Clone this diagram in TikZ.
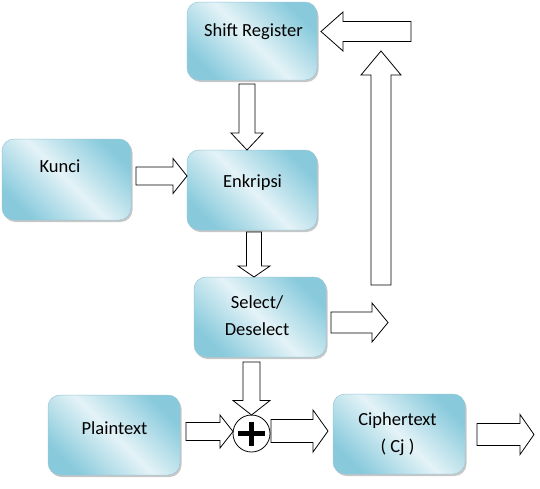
\documentclass[tikz,border=0pt]{standalone}
\usepackage{fontspec}
\setmainfont{Carlito}
\usetikzlibrary{calc,shadows}
\definecolor{bdark}{RGB}{136,202,220}
\definecolor{blight}{RGB}{228,243,247}
\definecolor{bedge}{RGB}{155,200,214}
\tikzset{
  box/.style={rectangle, rounded corners=12pt, minimum width=131pt, minimum height=80pt,
    inner sep=0pt, draw=bedge, line width=0.5pt,
    top color=bdark, bottom color=bdark, middle color=blight, shading angle=-45,
    drop shadow={shadow xshift=1.5pt, shadow yshift=-2pt, opacity=0.22, fill=black}},
  txt/.style={inner sep=0pt, font=\fontsize{18.5}{27}\selectfont, align=center},
  blockarrow/.style={draw=black, fill=white, line width=0.8pt, line join=miter},
}
\newcommand\blockarr[5]{%
  \draw[blockarrow]
    ($(#1)!#3!90:(#2)$) --
    ($($(#2)!#5!(#1)$)!#3!90:(#2)$) --
    ($($(#2)!#5!(#1)$)!#4!90:(#2)$) --
    (#2) --
    ($($(#2)!#5!(#1)$)!#4!-90:(#2)$) --
    ($($(#2)!#5!(#1)$)!#3!-90:(#2)$) --
    ($(#1)!#3!-90:(#2)$) -- cycle;}
\begin{document}
\begin{tikzpicture}[x=1pt,y=-1pt]
\useasboundingbox (0,0) rectangle (540,488);
\fill[white] (0,0) rectangle (540,488);
% boxes
\node[box, minimum width=130pt, minimum height=78pt] (shift) at (252,41) {};
\node[box, minimum width=129pt, minimum height=81pt] (kunci) at (66.5,179.5) {};
\node[box, minimum width=130pt] (enk) at (252,190) {};
\node[box, minimum width=132pt] (sel) at (260,317) {};
\node[box, minimum width=132pt] (plain) at (114,435) {};
\node[box, minimum width=132pt] (cipher) at (399,434) {};
% texts
\node[txt] (shiftT) at (253.5,32) {Shift Register};
\node[txt] (kunciT) at (60,166) {Kunci};
\node[txt] (enkT) at (252.5,183) {Enkripsi};
\node[txt] (selT) at (257,316) {Select/\\Deselect};
\node[txt] (plainT) at (114.5,428) {Plaintext};
\node[txt] (cipherT) at (397.5,434) {Ciphertext\\( Cj )};
% xor
\node[circle, draw=black, line width=0.8pt, fill=white, minimum size=37pt, inner sep=0pt] (xor) at (251.5,433.5) {};
\draw[line width=4.5pt] ($(xor)+(-13.5,0)$) -- ($(xor)+(13.5,0)$);
\draw[line width=4.5pt] ($(xor)+(0,-12)$) -- ($(xor)+(0,12)$);
% arrow coordinates
\coordinate (a1s) at (411,31.5);  \coordinate (a1e) at (321,31.5);
\coordinate (a2s) at (381,285);   \coordinate (a2e) at (381,51);
\coordinate (a3s) at (247,84);    \coordinate (a3e) at (247,150);
\coordinate (a4s) at (136,176);   \coordinate (a4e) at (187,176);
\coordinate (a5s) at (254,232);   \coordinate (a5e) at (254,277);
\coordinate (a6s) at (331,322.5); \coordinate (a6e) at (388,322.5);
\coordinate (a7s) at (251.5,362); \coordinate (a7e) at (251.5,415);
\coordinate (a8s) at (186,431.5); \coordinate (a8e) at (233,431.5);
\coordinate (a9s) at (271,431);   \coordinate (a9e) at (328,431);
\coordinate (a10s) at (477,434.5); \coordinate (a10e) at (534,434.5);
\blockarr{a1s}{a1e}{10pt}{19.5pt}{22pt}
\blockarr{a2s}{a2e}{10pt}{20pt}{24pt}
\blockarr{a3s}{a3e}{8pt}{16pt}{17pt}
\blockarr{a4s}{a4e}{9pt}{17.5pt}{14pt}
\blockarr{a5s}{a5e}{7.5pt}{16pt}{11pt}
\blockarr{a6s}{a6e}{10.5pt}{19.5pt}{16pt}
\blockarr{a7s}{a7e}{8.5pt}{18.5pt}{14.5pt}
\blockarr{a8s}{a8e}{9pt}{16.5pt}{13pt}
\blockarr{a9s}{a9e}{11.5pt}{21pt}{15pt}
\blockarr{a10s}{a10e}{11pt}{20pt}{14pt}
\end{tikzpicture}
\end{document}
